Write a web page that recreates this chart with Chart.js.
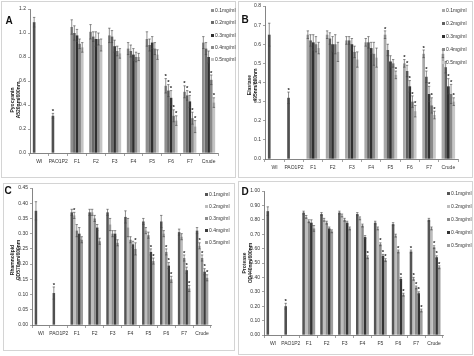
<!DOCTYPE html>
<html><head><meta charset="utf-8">
<script src="https://cdn.jsdelivr.net/npm/chart.js@4.4.1/dist/chart.umd.min.js"></script>
<style>
html,body{margin:0;padding:0;background:#fff;}
body{width:474px;height:356px;position:relative;overflow:hidden;font-family:"Liberation Sans",Arial,sans-serif;}
.panel{position:absolute;width:237px;height:178px;}
.panel canvas{position:absolute;left:0;top:0;}
.frame{position:absolute;border:1px solid #d4d4d4;box-sizing:border-box;}
.letter{position:absolute;font-weight:bold;font-size:10px;color:#111;transform:translate(-50%,-50%);}
.ytitle{position:absolute;font-size:5px;font-weight:bold;color:#222;text-align:center;line-height:6px;white-space:nowrap;transform:translate(-50%,-50%) rotate(-90deg);}
.leg{position:absolute;font-size:5px;color:#333;white-space:nowrap;transform:translateY(-50%);}
.leg i{display:inline-block;width:3px;height:3px;margin-right:1px;vertical-align:middle;}
</style>
</head><body>
<script>
// ---------- shared data ----------
const categories = ['WI','PAO1P2','F1','F2','F3','F4','F5','F6','F7','Crude'];
const seriesNames = ['0.1mg/ml','0.2mg/ml','0.3mg/ml','0.4mg/ml','0.5mg/ml'];

// ---------- A: Pyocyanin ----------
const pyo1 = [1.09, 0.31, 1.05, 1.01, 0.98, 0.87, 0.95, 0.56, 0.51, 0.92];
const pyo2 = [null, null, 1.00, 0.97, 0.97, 0.85, 0.90, 0.52, 0.48, 0.87];
const pyo3 = [null, null, 0.98, 0.95, 0.89, 0.82, 0.92, 0.46, 0.43, 0.80];
const pyo4 = [null, null, 0.91, 0.95, 0.85, 0.80, 0.87, 0.31, 0.29, 0.61];
const pyo5 = [null, null, 0.88, 0.90, 0.83, 0.80, 0.82, 0.27, 0.22, 0.42];
const pyoErr1 = [0.04, 0.02, 0.06, 0.06, 0.06, 0.05, 0.06, 0.06, 0.05, 0.05];
const pyoErr2 = [0, 0, 0.06, 0.04, 0.05, 0.05, 0.05, 0.05, 0.04, 0.05];
const pyoErr3 = [0, 0, 0.05, 0.06, 0.05, 0.05, 0.05, 0.06, 0.05, 0.05];
const pyoErr4 = [0, 0, 0.04, 0.05, 0.04, 0.04, 0.05, 0.05, 0.05, 0.04];
const pyoErr5 = [0, 0, 0.04, 0.05, 0.04, 0.03, 0.04, 0.04, 0.05, 0.04];
const pyoSig = [[1,0],[7,0],[7,1],[7,2],[7,3],[7,4],[8,0],[8,1],[8,2],[8,3],[8,4],[9,3],[9,4]];
const pyoTicks = ['0.0','0.2','0.4','0.6','0.8','1.0','1.2'];

// ---------- B: Elastase ----------
const ela1 = [0.65, 0.32, 0.65, 0.65, 0.62, 0.61, 0.65, 0.50, 0.55, 0.55];
const ela2 = [null, null, 0.62, 0.63, 0.62, 0.61, 0.57, 0.46, 0.43, 0.48];
const ela3 = [null, null, 0.61, 0.60, 0.60, 0.58, 0.51, 0.38, 0.34, 0.38];
const ela4 = [null, null, 0.60, 0.60, 0.56, 0.55, 0.50, 0.30, 0.28, 0.34];
const ela5 = [null, null, 0.58, 0.56, 0.52, 0.53, 0.44, 0.25, 0.23, 0.30];
const elaErr1 = [0.06, 0.03, 0.02, 0.02, 0.02, 0.02, 0.02, 0.02, 0.02, 0.02];
const elaErr2 = [0, 0, 0.03, 0.03, 0.02, 0.03, 0.03, 0.03, 0.03, 0.03];
const elaErr3 = [0, 0, 0.04, 0.04, 0.03, 0.03, 0.03, 0.03, 0.04, 0.04];
const elaErr4 = [0, 0, 0.04, 0.05, 0.03, 0.06, 0.02, 0.03, 0.04, 0.05];
const elaErr5 = [0, 0, 0.03, 0.05, 0.04, 0.05, 0.02, 0.03, 0.02, 0.02];
const elaSig = [[1,0],[6,0],[6,4],[7,0],[7,1],[7,2],[7,3],[7,4],[8,0],[8,1],[8,2],[8,3],[8,4],[9,2],[9,3],[9,4]];
const elaTicks = ['0.0','0.1','0.2','0.3','0.4','0.5','0.6','0.7','0.8'];

// ---------- C: Rhamnolipid ----------
const rha1 = [0.375, 0.105, 0.37, 0.37, 0.37, 0.355, 0.34, 0.34, 0.305, 0.31];
const rha2 = [null, null, 0.36, 0.37, 0.33, 0.32, 0.31, 0.30, 0.29, 0.26];
const rha3 = [null, null, 0.31, 0.35, 0.30, 0.28, 0.295, 0.24, 0.22, 0.22];
const rha4 = [null, null, 0.30, 0.32, 0.30, 0.265, 0.24, 0.195, 0.18, 0.175];
const rha5 = [null, null, 0.28, 0.275, 0.27, 0.25, 0.21, 0.15, 0.12, 0.155];
const rhaErr1 = [0.03, 0.02, 0.01, 0.01, 0.01, 0.02, 0.01, 0.02, 0.01, 0.01];
const rhaErr2 = [0, 0, 0.01, 0.01, 0.02, 0.03, 0.01, 0.01, 0.01, 0.01];
const rhaErr3 = [0, 0, 0.02, 0.01, 0.01, 0.01, 0.01, 0.01, 0.01, 0.01];
const rhaErr4 = [0, 0, 0.02, 0.01, 0.01, 0.01, 0.01, 0.01, 0.01, 0.01];
const rhaErr5 = [0, 0, 0.01, 0.01, 0.01, 0.02, 0.01, 0.01, 0.01, 0.01];
const rhaSig = [[1,0],[2,1],[5,4],[6,3],[6,4],[7,2],[7,3],[7,4],[8,2],[8,3],[8,4],[9,1],[9,2],[9,3],[9,4]];
const rhaTicks = ['0.00','0.05','0.10','0.15','0.20','0.25','0.30','0.35','0.40','0.45'];

// ---------- D: Protease ----------
const pro1 = [0.86, 0.20, 0.85, 0.84, 0.85, 0.84, 0.78, 0.77, 0.58, 0.80];
const pro2 = [null, null, 0.82, 0.80, 0.83, 0.81, 0.74, 0.69, 0.39, 0.74];
const pro3 = [null, null, 0.79, 0.78, 0.80, 0.76, 0.63, 0.58, 0.33, 0.61];
const pro4 = [null, null, 0.78, 0.74, 0.78, 0.68, 0.55, 0.39, 0.29, 0.54];
const pro5 = [null, null, 0.74, 0.72, 0.74, 0.54, 0.52, 0.28, 0.17, 0.47];
const proErr1 = [0.03, 0.02, 0.01, 0.01, 0.01, 0.01, 0.01, 0.01, 0.01, 0.01];
const proErr2 = [0, 0, 0.01, 0.01, 0.01, 0.01, 0.01, 0.01, 0.01, 0.01];
const proErr3 = [0, 0, 0.01, 0.01, 0.01, 0.01, 0.01, 0.01, 0.01, 0.01];
const proErr4 = [0, 0, 0.02, 0.01, 0.01, 0.01, 0.01, 0.01, 0.01, 0.01];
const proErr5 = [0, 0, 0.02, 0.01, 0.01, 0.01, 0.01, 0.01, 0.01, 0.01];
const proSig = [[1,0],[5,4],[6,2],[6,3],[6,4],[7,2],[7,3],[7,4],[8,0],[8,1],[8,2],[8,3],[8,4],[9,2],[9,3],[9,4]];
const proTicks = ['0.00','0.10','0.20','0.30','0.40','0.50','0.60','0.70','0.80','0.90','1.00'];

// ---------- drawing ----------
const FONT = '"Liberation Sans", Arial, sans-serif';

function addEl(cls, parent, html, style){
  const d = document.createElement('div'); d.className = cls; d.innerHTML = html;
  Object.assign(d.style, style); parent.appendChild(d); return d;
}

function makePanel(p){
  addEl('frame', document.body, '', p.frame);
  const wrap = addEl('panel', document.body, '', {left:p.x+'px', top:p.y+'px'});
  const cv = document.createElement('canvas'); cv.width = 237; cv.height = 178; wrap.appendChild(cv);
  addEl('letter', wrap, p.letter, {left:p.letterPos[0]+'px', top:p.letterPos[1]+'px'});
  addEl('ytitle', wrap, p.title.join('<br>'), {left:p.titlePos[0]+'px', top:p.titlePos[1]+'px'});
  p.series.forEach((s,i)=>{
    addEl('leg', wrap, '<i style="background:'+p.colors[i]+'"></i>'+seriesNames[i],
      {left:p.legX+'px', top:(p.legY0 + i*p.legDy)+'px'});
  });
  const ticks = p.ticks.map(Number);
  const step = ticks[1]-ticks[0];
  const datasets = p.series.map((s,i)=>({
    label: seriesNames[i], data: s,
    backgroundColor: s.map((v,j)=> j<2 ? p.ctrlColor : p.colors[i]),
    borderWidth: 0, barPercentage: 1.0, categoryPercentage: p.catPct
  }));
  const errPlugin = {
    id: 'errbars',
    afterDatasetsDraw(chart){
      const ctx = chart.ctx, y = chart.scales.y;
      ctx.save();
      ctx.strokeStyle = '#444'; ctx.lineWidth = 0.6;
      const tops = {};
      chart.data.datasets.forEach((ds,di)=>{
        const meta = chart.getDatasetMeta(di);
        meta.data.forEach((bar,i)=>{
          const v = ds.data[i]; if(v==null) return;
          const e = p.errors[di][i];
          const yt = y.getPixelForValue(v+e), yb = y.getPixelForValue(v-e);
          ctx.beginPath();
          ctx.moveTo(bar.x, yt); ctx.lineTo(bar.x, yb);
          ctx.moveTo(bar.x-1.2, yt); ctx.lineTo(bar.x+1.2, yt);
          ctx.moveTo(bar.x-1.2, yb); ctx.lineTo(bar.x+1.2, yb);
          ctx.stroke();
          tops[i+'_'+di] = [bar.x, yt];
        });
      });
      ctx.fillStyle = '#222';
      ctx.font = 'bold 6px ' + FONT;
      ctx.textAlign = 'center'; ctx.textBaseline = 'bottom';
      p.sig.forEach(([ci,si])=>{
        const t = tops[ci+'_'+si]; if(!t) return;
        ctx.fillText('*', t[0], t[1]+1);
      });
      ctx.restore();
    }
  };
  new Chart(cv, {
    type: 'bar',
    data: { labels: categories, datasets },
    plugins: [errPlugin],
    options: {
      responsive: false, animation: false, devicePixelRatio: 1,
      layout: { autoPadding: false, padding: { top: p.area.top, right: 237 - p.area.right, left: 0, bottom: 0 } },
      plugins: { legend: { display: false }, tooltip: { enabled: false } },
      scales: {
        x: {
          grid: { display: true, drawOnChartArea: false, offset: true, tickLength: 3, color: '#666', lineWidth: 0.6 },
          border: { color: '#666', width: 0.8 },
          ticks: { font: { size: 5, family: FONT }, color: '#333', maxRotation: 0, autoSkip: false, padding: 3 },
          afterFit(s){ s.height = 178 - p.area.bottom; }
        },
        y: {
          min: ticks[0], max: ticks[ticks.length-1],
          grid: { display: true, drawOnChartArea: false, tickLength: 2, color: '#666', lineWidth: 0.6 },
          border: { color: '#666', width: 0.8 },
          ticks: { stepSize: step, font: { size: 5, family: FONT }, color: '#333', padding: 2,
                   callback: (v)=> Number(v).toFixed(p.ticks[0].split('.')[1].length) },
          afterFit(s){ s.width = p.area.left; }
        }
      }
    }
  });
}

makePanel({
  x:0, y:0, frame:{left:'1px',top:'1px',width:'235px',height:'177px'},
  letter:'A', letterPos:[9,20], title:['Pyocyanin','A520nm/600nm'], titlePos:[15,100],
  series:[pyo1,pyo2,pyo3,pyo4,pyo5], errors:[pyoErr1,pyoErr2,pyoErr3,pyoErr4,pyoErr5], sig:pyoSig,
  ticks:pyoTicks, colors:['#8e8e8e','#6a6a6a','#2f2f2f','#8a8a8a','#c4c4c4'], ctrlColor:'#505050',
  area:{left:30,right:218,top:9,bottom:153}, catPct:0.7,
  legX:211, legY0:10, legDy:12.3
});
makePanel({
  x:237, y:0, frame:{left:'238px',top:'1px',width:'235px',height:'177px'},
  letter:'B', letterPos:[8,19], title:['Elastase','495nm/600nm'], titlePos:[15,85],
  series:[ela1,ela2,ela3,ela4,ela5], errors:[elaErr1,elaErr2,elaErr3,elaErr4,elaErr5], sig:elaSig,
  ticks:elaTicks, colors:['#a8a8a8','#606060','#303030','#8a8a8a','#c8c8c8'], ctrlColor:'#505050',
  area:{left:28,right:221,top:6,bottom:159}, catPct:0.7,
  legX:205, legY0:10, legDy:13
});
makePanel({
  x:0, y:178, frame:{left:'3px',top:'183px',width:'232px',height:'168px'},
  letter:'C', letterPos:[8,12], title:['Rhamnolipid','OD570nm/600nm'], titlePos:[15,82],
  series:[rha1,rha2,rha3,rha4,rha5], errors:[rhaErr1,rhaErr2,rhaErr3,rhaErr4,rhaErr5], sig:rhaSig,
  ticks:rhaTicks, colors:['#555555','#bdbdbd','#8c8c8c','#3c3c3c','#9e9e9e'], ctrlColor:'#505050',
  area:{left:32,right:211,top:10,bottom:147}, catPct:0.7,
  legX:205, legY0:16, legDy:12
});
makePanel({
  x:237, y:178, frame:{left:'238px',top:'181px',width:'235px',height:'174px'},
  letter:'D', letterPos:[8,13], title:['Protease','OD440nm/600nm'], titlePos:[10,85],
  series:[pro1,pro2,pro3,pro4,pro5], errors:[proErr1,proErr2,proErr3,proErr4,proErr5], sig:proSig,
  ticks:proTicks, colors:['#555555','#bdbdbd','#8c8c8c','#333333','#9e9e9e'], ctrlColor:'#505050',
  area:{left:27,right:206,top:13,bottom:157}, catPct:0.72,
  legX:210, legY0:15, legDy:13
});
</script>
</body></html>
